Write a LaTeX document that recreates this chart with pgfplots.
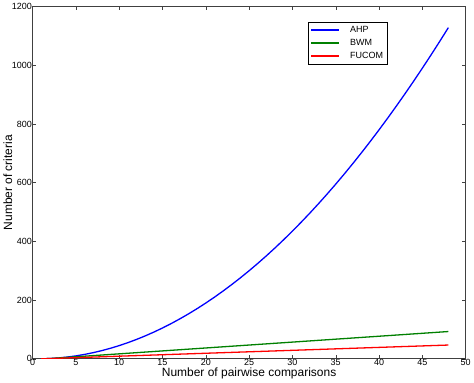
\documentclass[border=0pt]{standalone}
\usepackage{pgfplots}
\usepackage{pgfplotstable}
\pgfplotsset{compat=1.18}
\usepackage{fontspec}
\setmainfont{Liberation Sans}
\pgfplotstableread{
n ahp bwm fucom
1 0 0 0
2 1 1 1
3 3 3 2
4 6 5 3
5 10 7 4
6 15 9 5
7 21 11 6
8 28 13 7
9 36 15 8
10 45 17 9
11 55 19 10
12 66 21 11
13 78 23 12
14 91 25 13
15 105 27 14
16 120 29 15
17 136 31 16
18 153 33 17
19 171 35 18
20 190 37 19
21 210 39 20
22 231 41 21
23 253 43 22
24 276 45 23
25 300 47 24
26 325 49 25
27 351 51 26
28 378 53 27
29 406 55 28
30 435 57 29
31 465 59 30
32 496 61 31
33 528 63 32
34 561 65 33
35 595 67 34
36 630 69 35
37 666 71 36
38 703 73 37
39 741 75 38
40 780 77 39
41 820 79 40
42 861 81 41
43 903 83 42
44 946 85 43
45 990 87 44
46 1035 89 45
47 1081 91 46
48 1128 93 47
}\datatable
\begin{document}
\begin{tikzpicture}[x=1pt,y=1pt]
\begin{axis}[
  scale only axis,
  width=434pt, height=353pt,
  xmin=0, xmax=50, ymin=0, ymax=1200,
  xtick={0,5,...,50}, ytick={0,200,...,1200},
  tick align=inside,
  major tick length=4pt,
  axis line style={black!75, line width=0.9pt},
  every tick/.style={black!75},
  tick label style={font=\fontsize{9}{10}\selectfont},
  /pgf/number format/assume math mode=true,
  /pgf/number format/set thousands separator={},
  xticklabel style={yshift=3pt},
  yticklabel style={xshift=3pt},
  xlabel={Number of pairwise comparisons},
  ylabel={Number of criteria},
  label style={font=\fontsize{12}{14}\selectfont},
  xlabel style={yshift=5pt},
  ylabel style={yshift=-7pt},
  legend style={at={(0.636,0.957)}, anchor=north west,
    font=\fontsize{9}{10}\selectfont, inner sep=2pt, row sep=1.5pt},
  legend cell align=left,
  legend image code/.code={\draw[#1, line width=2pt] (0pt,0pt) -- (28pt,0pt);},
]
\addplot[blue, line width=1.3pt] table[x=n, y=ahp] {\datatable};
\addlegendentry{\hspace{8pt}AHP}
\addplot[green!50!black, line width=1.3pt] table[x=n, y=bwm] {\datatable};
\addlegendentry{\hspace{8pt}BWM}
\addplot[red, line width=1.3pt] table[x=n, y=fucom] {\datatable};
\addlegendentry{\hspace{8pt}FUCOM}
\end{axis}
\end{tikzpicture}
\end{document}
